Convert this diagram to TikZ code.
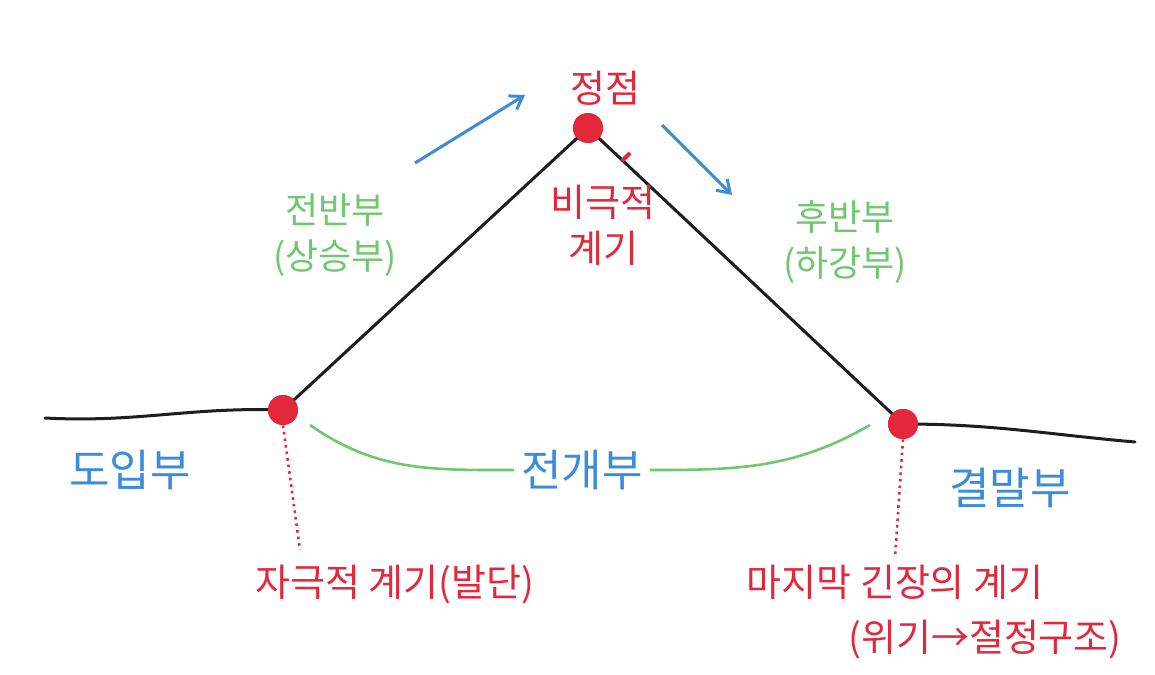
\documentclass[tikz,border=0pt]{standalone}
\usepackage{fontspec}
\setmainfont{Noto Sans CJK KR}
\usetikzlibrary{arrows.meta}
\definecolor{pen}{RGB}{30,30,30}
\definecolor{redpen}{RGB}{228,40,60}
\definecolor{bluepen}{RGB}{60,140,220}
\definecolor{greenpen}{RGB}{110,200,110}
\tikzstyle{dot} = [circle, fill=redpen, inner sep=0pt, minimum size=15pt]
\tikzstyle{redtext} = [text=redpen, font=\fontsize{19}{23}\selectfont]
\tikzstyle{greentext} = [text=greenpen, font=\fontsize{18}{23}\selectfont, align=center]
\tikzstyle{bluetext} = [text=bluepen, font=\fontsize{22}{26}\selectfont]
\tikzstyle{ridge} = [draw=pen, line width=1.5pt, line cap=round, line join=round]
\tikzstyle{bluearrow} = [draw=bluepen, line width=1.5pt, -{Straight Barb[length=6pt,width=8pt]}]
\begin{document}
\begin{tikzpicture}[x=0.5pt,y=-0.5pt]
  \useasboundingbox (0,0) rectangle (1155,674);
  % the three turning points
  \node (START) [dot] at (283,410) {};
  \node (PEAK) [dot] at (588,128) {};
  \node (END) [dot] at (903,424) {};
  \coordinate (LEFTEND) at (45,418);
  \coordinate (RIGHTEND) at (1135,442);
  \coordinate (TICK) at (626,157);

  % pyramid line
  \path [ridge] (LEFTEND) to[out=-3,in=178] (START.center) -- (PEAK.center) -- (END.center)
    to[out=0,in=175] (RIGHTEND);
  \path [draw=redpen, line width=2pt] (TICK)+(-4,4) -- +(4,-4);
  \node (START) [dot] at (283,410) {};
  \node (PEAK) [dot] at (588,128) {};
  \node (END) [dot] at (903,424) {};

  % labels
  \node (TOP) [redtext] at (605,88) {정점};
  \node (TRAGIC) [redtext, align=center] at (603,225) {비극적\\계기};
  \node (RISE) [greentext] at (335,235) {전반부\\(상승부)};
  \node (FALL) [greentext] at (845,242) {후반부\\(하강부)};
  \node (INTRO) [bluetext] at (130,470) {도입부};
  \node (DEVEL) [bluetext] at (582,470) {전개부};
  \node (OUTRO) [bluetext] at (1010,488) {결말부};
  \node (EXCITE) [redtext] at (395,585) {자극적 계기(발단)};
  \node (TENSION) [redtext] at (895,582) {마지막 긴장의 계기};
  \node (CLIMAX) [redtext] at (985,640) {(위기→절정구조)};

  % arrows and guides
  \coordinate (UPA) at (415,163);
  \coordinate (UPB) at (525,95);
  \coordinate (DOWNA) at (662,125);
  \coordinate (DOWNB) at (732,195);
  \path [bluearrow] (UPA) -- (UPB);
  \path [bluearrow] (DOWNA) -- (DOWNB);
  \path [draw=greenpen, line width=1.3pt] (310,425) to[out=-35,in=180] (DEVEL.west);
  \path [draw=greenpen, line width=1.3pt] (DEVEL.east) to[out=0,in=-150] (870,425);
  \path [draw=redpen, line width=1.3pt, dotted] (START.south) -- (300,550);
  \path [draw=redpen, line width=1.3pt, dotted] (END.south) -- (TENSION.north);
\end{tikzpicture}
\end{document}
